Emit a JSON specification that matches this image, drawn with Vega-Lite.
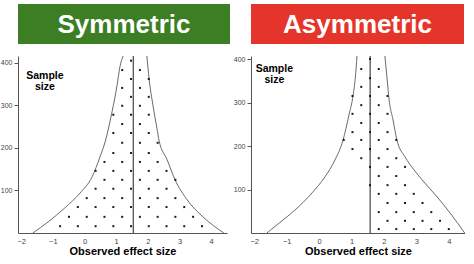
{
  "$schema": "https://vega.github.io/schema/vega-lite/v6.json",
  "background": "white",
  "padding": {"left": 0, "top": 4, "right": 0, "bottom": 0},
  "autosize": {"type": "pad"},
  "config": {
    "view": {"stroke": null},
    "font": "Liberation Sans",
    "axis": {"grid": false, "domainColor": "#555", "tickColor": "#555", "labelColor": "#444", "labelFont": "Liberation Sans", "titleFont": "Liberation Sans", "labelOverlap": false}
  },
  "datasets": {
    "symDots": [
      {"x": 1.47, "n": 405},
      {"x": 1.19, "n": 383}, {"x": 1.75, "n": 383},
      {"x": 1.47, "n": 362}, {"x": 2.03, "n": 362},
      {"x": 1.19, "n": 341}, {"x": 1.75, "n": 341},
      {"x": 1.47, "n": 320}, {"x": 2.03, "n": 320},
      {"x": 1.19, "n": 299}, {"x": 1.75, "n": 299},
      {"x": 0.91, "n": 278}, {"x": 1.47, "n": 278}, {"x": 2.03, "n": 278},
      {"x": 1.19, "n": 256}, {"x": 1.75, "n": 256},
      {"x": 0.91, "n": 235}, {"x": 1.47, "n": 235}, {"x": 2.03, "n": 235},
      {"x": 1.19, "n": 212}, {"x": 1.75, "n": 212}, {"x": 2.31, "n": 212},
      {"x": 0.91, "n": 188}, {"x": 1.47, "n": 188}, {"x": 2.03, "n": 188},
      {"x": 0.63, "n": 167}, {"x": 1.19, "n": 167}, {"x": 1.75, "n": 167}, {"x": 2.31, "n": 167},
      {"x": 0.35, "n": 146}, {"x": 0.91, "n": 146}, {"x": 1.47, "n": 146}, {"x": 2.03, "n": 146}, {"x": 2.59, "n": 146},
      {"x": 0.63, "n": 125}, {"x": 1.19, "n": 125}, {"x": 1.75, "n": 125}, {"x": 2.31, "n": 125}, {"x": 2.87, "n": 125},
      {"x": 0.35, "n": 104}, {"x": 0.91, "n": 104}, {"x": 1.47, "n": 104}, {"x": 2.03, "n": 104}, {"x": 2.59, "n": 104},
      {"x": 0.07, "n": 82}, {"x": 0.63, "n": 82}, {"x": 1.19, "n": 82}, {"x": 1.75, "n": 82}, {"x": 2.31, "n": 82}, {"x": 2.87, "n": 82},
      {"x": -0.21, "n": 61}, {"x": 0.35, "n": 61}, {"x": 0.91, "n": 61}, {"x": 1.47, "n": 61}, {"x": 2.03, "n": 61}, {"x": 2.59, "n": 61}, {"x": 3.15, "n": 61},
      {"x": -0.49, "n": 38}, {"x": 0.07, "n": 38}, {"x": 0.63, "n": 38}, {"x": 1.19, "n": 38}, {"x": 1.75, "n": 38}, {"x": 2.31, "n": 38}, {"x": 2.87, "n": 38}, {"x": 3.43, "n": 38},
      {"x": -0.77, "n": 16}, {"x": -0.21, "n": 16}, {"x": 0.35, "n": 16}, {"x": 0.91, "n": 16}, {"x": 1.47, "n": 16}, {"x": 2.03, "n": 16}, {"x": 2.59, "n": 16}, {"x": 3.15, "n": 16}, {"x": 3.71, "n": 16}
    ],
    "asymDots": [
      {"x": 1.57, "n": 400},
      {"x": 1.30, "n": 377}, {"x": 1.84, "n": 377},
      {"x": 1.57, "n": 356},
      {"x": 1.30, "n": 336}, {"x": 1.84, "n": 336},
      {"x": 1.03, "n": 315}, {"x": 1.57, "n": 315}, {"x": 2.11, "n": 315},
      {"x": 1.30, "n": 294}, {"x": 1.84, "n": 294},
      {"x": 1.03, "n": 274}, {"x": 1.57, "n": 274}, {"x": 2.11, "n": 274},
      {"x": 1.30, "n": 253}, {"x": 1.84, "n": 253},
      {"x": 1.03, "n": 232}, {"x": 1.57, "n": 232}, {"x": 2.11, "n": 232},
      {"x": 0.76, "n": 214}, {"x": 1.30, "n": 214}, {"x": 1.84, "n": 214}, {"x": 2.38, "n": 214},
      {"x": 1.03, "n": 193}, {"x": 1.57, "n": 193}, {"x": 2.11, "n": 193},
      {"x": 1.30, "n": 172}, {"x": 1.84, "n": 172}, {"x": 2.38, "n": 172},
      {"x": 1.57, "n": 152}, {"x": 2.11, "n": 152}, {"x": 2.65, "n": 152},
      {"x": 1.84, "n": 131}, {"x": 2.38, "n": 131},
      {"x": 1.57, "n": 110}, {"x": 2.11, "n": 110}, {"x": 2.65, "n": 110},
      {"x": 1.84, "n": 90}, {"x": 2.38, "n": 90}, {"x": 2.92, "n": 90},
      {"x": 2.11, "n": 69}, {"x": 2.65, "n": 69}, {"x": 3.19, "n": 69},
      {"x": 1.84, "n": 48}, {"x": 2.38, "n": 48}, {"x": 2.92, "n": 48}, {"x": 3.46, "n": 48},
      {"x": 2.11, "n": 28}, {"x": 2.65, "n": 28}, {"x": 3.19, "n": 28}, {"x": 3.73, "n": 28},
      {"x": 1.84, "n": 9}, {"x": 2.38, "n": 9}, {"x": 2.92, "n": 9}, {"x": 3.46, "n": 9}, {"x": 4.00, "n": 9}
    ],
    "symCurve": [
      {"side": "L", "x": -1.63, "n": 0}, {"side": "L", "x": -1.15, "n": 26}, {"side": "L", "x": -0.62, "n": 59},
      {"side": "L", "x": -0.14, "n": 94}, {"side": "L", "x": 0.24, "n": 132}, {"side": "L", "x": 0.49, "n": 179},
      {"side": "L", "x": 0.65, "n": 214}, {"side": "L", "x": 0.87, "n": 285}, {"side": "L", "x": 1.03, "n": 348},
      {"side": "L", "x": 1.12, "n": 391}, {"side": "L", "x": 1.22, "n": 416},
      {"side": "R", "x": 1.97, "n": 416}, {"side": "R", "x": 2.04, "n": 362}, {"side": "R", "x": 2.16, "n": 301},
      {"side": "R", "x": 2.29, "n": 245}, {"side": "R", "x": 2.35, "n": 219}, {"side": "R", "x": 2.61, "n": 172},
      {"side": "R", "x": 2.86, "n": 125}, {"side": "R", "x": 3.24, "n": 78}, {"side": "R", "x": 3.74, "n": 38},
      {"side": "R", "x": 4.40, "n": 0}
    ],
    "asymCurve": [
      {"side": "L", "x": -1.61, "n": 0}, {"side": "L", "x": -1.23, "n": 23}, {"side": "L", "x": -0.74, "n": 53},
      {"side": "L", "x": -0.22, "n": 92}, {"side": "L", "x": 0.18, "n": 129}, {"side": "L", "x": 0.49, "n": 168},
      {"side": "L", "x": 0.74, "n": 214}, {"side": "L", "x": 0.92, "n": 271}, {"side": "L", "x": 1.05, "n": 317},
      {"side": "L", "x": 1.12, "n": 359}, {"side": "L", "x": 1.17, "n": 407},
      {"side": "R", "x": 2.03, "n": 407}, {"side": "R", "x": 2.10, "n": 352}, {"side": "R", "x": 2.16, "n": 306},
      {"side": "R", "x": 2.28, "n": 260}, {"side": "R", "x": 2.40, "n": 214}, {"side": "R", "x": 2.65, "n": 175},
      {"side": "R", "x": 2.93, "n": 145}, {"side": "R", "x": 3.18, "n": 122}, {"side": "R", "x": 3.64, "n": 83},
      {"side": "R", "x": 4.04, "n": 46}, {"side": "R", "x": 4.49, "n": 0}
    ]
  },
  "columns": 2,
  "spacing": {"row": 12, "column": 21},
  "bounds": "flush",
  "concat": [
    {
      "width": 212, "height": 40,
      "view": {"fill": "#3b7e23", "stroke": null},
      "data": {"values": [{"title": "Symmetric"}]},
      "mark": {"type": "text", "fontSize": 26, "fontWeight": "bold", "color": "white", "baseline": "middle", "dy": 1, "font": "Liberation Sans"},
      "encoding": {"text": {"field": "title"}}
    },
    {
      "width": 213, "height": 40,
      "view": {"fill": "#e5352b", "stroke": null},
      "data": {"values": [{"title": "Asymmetric"}]},
      "mark": {"type": "text", "fontSize": 26, "fontWeight": "bold", "color": "white", "baseline": "middle", "dy": 1, "font": "Liberation Sans"},
      "encoding": {"text": {"field": "title"}}
    },
    {
      "width": 209, "height": 177,
      "encoding": {
        "x": {"type": "quantitative", "scale": {"domain": [-2.1, 4.5], "nice": false, "zero": false},
              "axis": {"values": [-2, -1, 0, 1, 2, 3, 4], "tickCount": 7, "ticks": false, "labelOverlap": false, "labelFontSize": 7.5, "labelPadding": 4, "labelFlush": false, "format": "d", "titleFontSize": 11, "titleFontWeight": "bold", "titleColor": "black", "titlePadding": 1},
              "title": "Observed effect size"},
        "y": {"type": "quantitative", "scale": {"domain": [0, 416], "nice": false},
              "axis": {"values": [100, 200, 300, 400], "tickSize": 4, "labelOverlap": false, "labelFontSize": 7, "labelPadding": 2, "labelFlush": false}, "title": null}
      },
      "layer": [
        {
          "data": {"name": "symCurve"},
          "mark": {"type": "line", "color": "#6a6a6a", "strokeWidth": 1, "clip": true, "interpolate": "monotone"},
          "encoding": {
            "x": {"field": "x", "type": "quantitative"},
            "y": {"field": "n", "type": "quantitative"},
            "detail": {"field": "side"},
            "order": {"field": "n", "type": "quantitative"}
          }
        },
        {
          "data": {"values": [{"mean": 1.54}]},
          "mark": {"type": "rule", "color": "#444", "strokeWidth": 1.2},
          "encoding": {"x": {"field": "mean", "type": "quantitative"}}
        },
        {
          "data": {"name": "symDots"},
          "mark": {"type": "square", "size": 4, "color": "#1a1a1a", "opacity": 1},
          "encoding": {"x": {"field": "x", "type": "quantitative"}, "y": {"field": "n", "type": "quantitative"}}
        },
        {
          "data": {"values": [{"label": "Sample size"}]},
          "mark": {"type": "text", "fontSize": 10.5, "fontWeight": "bold", "align": "center", "baseline": "alphabetic", "lineBreak": " ", "lineHeight": 11, "color": "black"},
          "encoding": {"x": {"datum": -1.25}, "y": {"datum": 362}, "text": {"field": "label"}}
        }
      ]
    },
    {
      "width": 214, "height": 177,
      "encoding": {
        "x": {"type": "quantitative", "scale": {"domain": [-2.1, 4.5], "nice": false, "zero": false},
              "axis": {"values": [-2, -1, 0, 1, 2, 3, 4], "tickCount": 7, "ticks": false, "labelOverlap": false, "labelFontSize": 7.5, "labelPadding": 4, "labelFlush": false, "format": "d", "titleFontSize": 11, "titleFontWeight": "bold", "titleColor": "black", "titlePadding": 1},
              "title": "Observed effect size"},
        "y": {"type": "quantitative", "scale": {"domain": [0, 407], "nice": false},
              "axis": {"values": [100, 200, 300, 400], "tickSize": 4, "labelOverlap": false, "labelFontSize": 7, "labelPadding": 2, "labelFlush": false}, "title": null}
      },
      "layer": [
        {
          "data": {"name": "asymCurve"},
          "mark": {"type": "line", "color": "#6a6a6a", "strokeWidth": 1, "clip": true, "interpolate": "monotone"},
          "encoding": {
            "x": {"field": "x", "type": "quantitative"},
            "y": {"field": "n", "type": "quantitative"},
            "detail": {"field": "side"},
            "order": {"field": "n", "type": "quantitative"}
          }
        },
        {
          "data": {"values": [{"mean": 1.575}]},
          "mark": {"type": "rule", "color": "#444", "strokeWidth": 1.2},
          "encoding": {"x": {"field": "mean", "type": "quantitative"}}
        },
        {
          "data": {"name": "asymDots"},
          "mark": {"type": "square", "size": 4, "color": "#1a1a1a", "opacity": 1},
          "encoding": {"x": {"field": "x", "type": "quantitative"}, "y": {"field": "n", "type": "quantitative"}}
        },
        {
          "data": {"values": [{"label": "Sample size"}]},
          "mark": {"type": "text", "fontSize": 10.5, "fontWeight": "bold", "align": "center", "baseline": "alphabetic", "lineBreak": " ", "lineHeight": 11, "color": "black"},
          "encoding": {"x": {"datum": -1.38}, "y": {"datum": 370}, "text": {"field": "label"}}
        }
      ]
    }
  ]
}
